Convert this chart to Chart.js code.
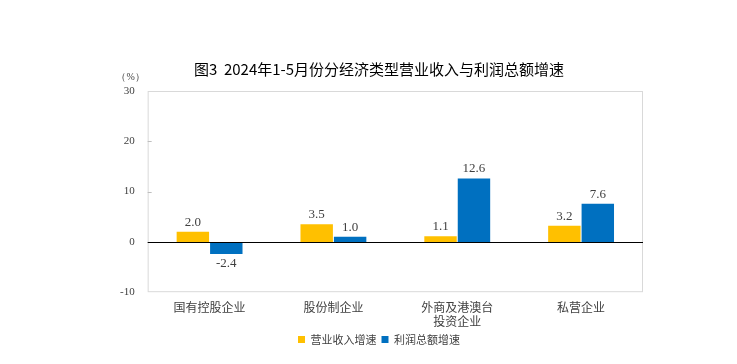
<!DOCTYPE html>
<html>
<head>
<meta charset="utf-8">
<script src="https://cdn.jsdelivr.net/npm/chart.js@4/dist/chart.umd.min.js"></script>
<style>
  html, body { margin: 0; padding: 0; background: #fff; }
  #wrap { width: 737px; height: 364px; }
</style>
</head>
<body>
<div id="wrap"><canvas id="c" width="737" height="364"></canvas></div>
<script>
// ---- data ----
const categories = ['国有控股企业', '股份制企业', ['外商及港澳台', '投资企业'], '私营企业'];
const revenueGrowth = [2.0, 3.5, 1.1, 3.2];
const profitGrowth = [-2.4, 1.0, 12.6, 7.6];
const seriesNames = ['营业收入增速', '利润总额增速'];
const yTicks = [-10, 0, 10, 20, 30];

const CJK = '"Noto Sans CJK SC", "Noto Sans", sans-serif';
const SERIF = '"Liberation Serif", "DejaVu Serif", serif';

// frame, zero line, small ticks, unit label, value labels
const decor = {
  id: 'decor',
  afterDatasetsDraw(chart) {
    const { ctx, chartArea: a, scales: { y } } = chart;
    ctx.save();
    ctx.strokeStyle = '#D9D9D9';
    ctx.lineWidth = 1;
    ctx.strokeRect(a.left + 0.5, a.top + 0.5, a.right - a.left - 1, a.bottom - a.top - 1);
    ctx.strokeStyle = '#BFBFBF';
    yTicks.forEach(v => {
      if (v === 0 || v === yTicks[0] || v === yTicks[yTicks.length - 1]) return;
      const py = Math.round(y.getPixelForValue(v)) + 0.5;
      ctx.beginPath(); ctx.moveTo(a.left, py); ctx.lineTo(a.left + 4, py); ctx.stroke();
    });
    const z = Math.round(y.getPixelForValue(0)) + 0.5;
    ctx.strokeStyle = '#000';
    ctx.beginPath(); ctx.moveTo(a.left, z); ctx.lineTo(a.right, z); ctx.stroke();

    ctx.fillStyle = '#404040';
    ctx.font = '13px ' + SERIF;
    ctx.textAlign = 'center';
    chart.data.datasets.forEach((ds, i) => {
      chart.getDatasetMeta(i).data.forEach((bar, j) => {
        const v = ds.data[j];
        if (v >= 0) { ctx.textBaseline = 'bottom'; ctx.fillText(v.toFixed(1), bar.x, bar.y - 3); }
        else { ctx.textBaseline = 'top'; ctx.fillText(v.toFixed(1), bar.x, bar.y + 3); }
      });
    });

    ctx.font = '10px ' + SERIF;
    ctx.textAlign = 'center';
    ctx.textBaseline = 'bottom';
    ctx.fillText('（%）', a.left - 17, a.top - 9);
    ctx.restore();
  }
};

new Chart(document.getElementById('c'), {
  type: 'bar',
  data: {
    labels: categories,
    datasets: [
      { label: seriesNames[0], data: revenueGrowth, backgroundColor: '#FFC000',
        categoryPercentage: 0.54, barPercentage: 0.97 },
      { label: seriesNames[1], data: profitGrowth, backgroundColor: '#0070C0',
        categoryPercentage: 0.54, barPercentage: 0.97 }
    ]
  },
  options: {
    responsive: false,
    animation: false,
    layout: { padding: { left: 115, right: 94, top: 0, bottom: 9 } },
    plugins: {
      title: {
        display: true,
        text: '图3  2024年1-5月份分经济类型营业收入与利润总额增速',
        color: '#000',
        font: { family: CJK, size: 15, weight: 'normal' },
        padding: { top: 60, bottom: 13 }
      },
      legend: {
        position: 'bottom',
        labels: {
          color: '#404040',
          font: { family: CJK, size: 11 },
          boxWidth: 7, boxHeight: 7,
          padding: 5
        }
      },
      tooltip: { enabled: false }
    },
    scales: {
      y: {
        min: -10, max: 30,
        afterBuildTicks: s => { s.ticks = yTicks.map(v => ({ value: v })); },
        grid: { display: false },
        border: { display: false },
        ticks: { color: '#404040', font: { family: SERIF, size: 11 }, padding: 5 }
      },
      x: {
        grid: { display: false },
        border: { display: false },
        ticks: { color: '#404040', font: { family: CJK, size: 12 }, padding: 0, maxRotation: 0 }
      }
    }
  },
  plugins: [decor]
});
</script>
</body>
</html>
